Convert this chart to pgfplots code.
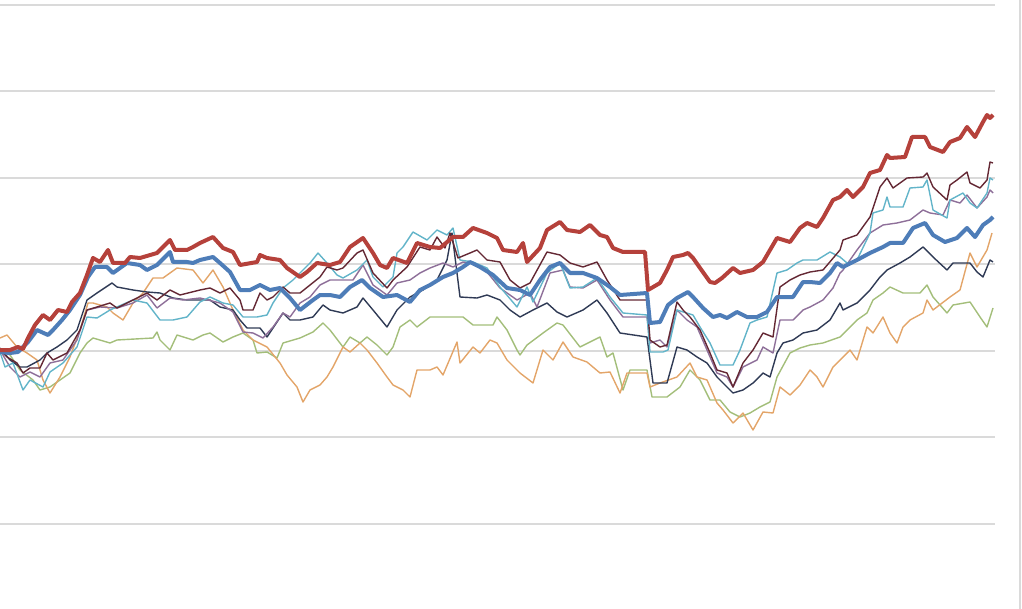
\documentclass[border=0pt]{standalone}
\usepackage{pgfplots}
\pgfplotsset{compat=1.18}

\definecolor{cred}{RGB}{181,65,59}
\definecolor{cblue}{RGB}{78,125,184}
\definecolor{cmaroon}{RGB}{100,40,52}
\definecolor{cteal}{RGB}{98,180,201}
\definecolor{cpurple}{RGB}{142,111,153}
\definecolor{cnavy}{RGB}{47,58,85}
\definecolor{corange}{RGB}{227,165,105}
\definecolor{cgreen}{RGB}{163,190,122}
\definecolor{cgrid}{RGB}{218,218,218}

\begin{document}
\begin{tikzpicture}
  \begin{axis}[
    at={(0,0)}, anchor=south west,
    scale only axis,
    width=497.5pt, height=304.5pt,
    xmin=0, xmax=995,
    ymin=0, ymax=609,
    y dir=reverse,
    axis line style={draw=none},
    tick style={draw=none},
    xtick=\empty,
    ytick={5,91,178,264,351,437,524},
    yticklabels={},
    ymajorgrids=true,
    major grid style={color=cgrid, line width=0.75pt},
    clip=false,
    thin/.style={line width=0.7pt, line join=round},
    thick/.style={line width=2pt, line join=round},
  ]
  % green
  \addplot[thin, cgreen] coordinates {
    (0,350)(10,355)(20,370)(33,380)(40,390)(50,387)(60,380)(70,373)(80,353)(87,343)
    (93,338)(110,343)(117,340)(153,338)(157,332)(160,340)(170,350)(177,335)(193,340)
    (203,335)(210,333)(223,342)(233,337)(243,333)(253,340)(257,353)(267,352)(277,358)
    (283,343)(300,338)(313,332)(323,323)(330,330)(343,347)(350,337)(360,343)(367,337)
    (377,345)(387,355)(393,347)(400,327)(410,320)(417,327)(430,317)(463,317)(473,325)
    (493,325)(497,317)(507,330)(517,350)(520,355)(527,345)(543,333)(557,323)(563,325)
    (580,347)(590,342)(600,337)(607,357)(613,353)(623,390)(630,370)(647,370)(652,397)
    (667,397)(680,387)(690,370)(700,380)(710,400)(720,400)(730,412)(740,417)(750,413)
    (760,407)(770,402)(777,377)(790,353)(800,348)(810,345)(823,343)(840,337)(847,330)
    (857,320)(867,313)(873,300)(883,293)(890,287)(903,293)(920,293)(927,285)(933,297)
    (947,313)(953,305)(970,302)(980,317)(987,327)(993,308)
  };
  % orange
  \addplot[thin, corange] coordinates {
    (0,338)(7,335)(17,347)(27,353)(37,360)(43,380)(50,393)(60,377)(70,357)(80,330)
    (88,303)(93,303)(107,307)(113,313)(123,320)(133,303)(143,293)(153,278)(163,278)
    (177,268)(193,270)(203,283)(213,270)(223,287)(233,310)(243,330)(253,340)(267,347)
    (280,363)(287,375)(297,387)(303,402)(310,390)(320,385)(327,377)(333,367)(343,347)
    (350,352)(360,343)(367,350)(377,363)(387,377)(393,385)(403,390)(410,397)(417,370)
    (430,370)(437,367)(443,375)(457,342)(460,363)(473,347)(480,353)(490,340)(497,343)
    (507,360)(520,373)(533,383)(543,350)(553,360)(563,342)(573,357)(587,362)(600,373)
    (610,372)(620,393)(627,373)(647,373)(650,387)(660,383)(677,377)(690,363)(697,377)
    (707,380)(717,403)(723,410)(733,423)(743,413)(753,430)(763,412)(773,413)(780,387)
    (790,395)(800,385)(810,370)(817,377)(823,387)(833,367)(840,360)(850,350)(857,360)
    (867,327)(873,333)(883,317)(890,333)(897,343)(903,327)(910,320)(923,313)(927,300)
    (933,310)(950,297)(960,290)(970,253)(977,267)(987,250)(992,233)
  };
  % navy
  \addplot[thin, cnavy] coordinates {
    (0,348)(10,360)(20,367)(27,367)(40,360)(47,353)(57,347)(67,340)(77,330)(87,300)
    (97,293)(112,283)(117,287)(133,290)(147,292)(160,293)(173,298)(187,300)(200,300)
    (210,300)(220,307)(233,310)(240,320)(247,328)(260,328)(267,337)(283,313)(290,320)
    (300,320)(313,317)(323,305)(330,310)(343,313)(357,307)(363,298)(373,310)(387,327)
    (397,310)(410,297)(423,290)(437,280)(447,260)(452,233)(460,297)(477,298)(487,295)
    (500,300)(510,310)(520,317)(533,310)(547,303)(557,312)(567,317)(583,310)(597,300)
    (607,313)(620,333)(647,337)(650,360)(653,383)(667,383)(677,347)(687,350)(697,357)
    (707,363)(717,377)(723,383)(733,393)(743,390)(753,383)(763,373)(770,377)(777,353)
    (783,343)(793,340)(803,333)(817,330)(830,320)(840,303)(843,310)(857,303)(863,297)
    (870,290)(880,277)(887,270)(900,263)(910,257)(923,247)(933,257)(947,270)(953,263)
    (970,263)(977,272)(983,277)(990,260)(993,262)
  };
  % purple
  \addplot[thin, cpurple] coordinates {
    (0,350)(10,367)(20,377)(30,372)(40,377)(50,363)(63,360)(77,340)(87,310)(100,307)
    (117,308)(133,303)(147,295)(157,308)(170,298)(183,300)(200,298)(220,303)(233,312)
    (243,332)(253,333)(263,338)(273,327)(283,313)(290,317)(300,303)(310,297)(320,285)
    (330,280)(353,280)(363,265)(373,285)(387,295)(397,283)(410,280)(420,273)(430,268)
    (443,263)(453,267)(463,262)(473,263)(487,272)(500,288)(517,300)(530,293)(537,307)
    (550,273)(563,270)(570,287)(583,288)(597,280)(610,300)(623,317)(647,317)(650,343)
    (660,340)(667,347)(677,310)(687,320)(697,327)(707,350)(717,373)(727,377)(733,387)
    (743,367)(757,360)(763,347)(773,353)(780,320)(793,320)(803,310)(810,307)(823,300)
    (833,288)(840,273)(843,270)(857,250)(870,233)(883,225)(897,223)(910,220)(923,210)
    (930,213)(943,215)(950,200)(960,203)(967,195)(977,208)(987,197)(990,190)(993,193)
  };
  % teal
  \addplot[thin, cteal] coordinates {
    (0,352)(5,367)(13,363)(23,390)(30,380)(43,387)(50,372)(63,363)(77,347)(87,317)
    (97,318)(110,310)(133,300)(147,303)(160,320)(173,320)(187,317)(200,302)(210,297)
    (223,303)(233,305)(243,317)(257,317)(267,315)(273,303)(283,288)(293,280)(300,273)
    (310,263)(318,253)(327,263)(337,275)(343,278)(357,270)(367,260)(373,277)(383,287)
    (393,277)(397,253)(403,247)(413,232)(427,240)(437,230)(447,235)(453,228)(460,260)
    (473,262)(487,268)(500,287)(517,307)(527,287)(533,302)(547,273)(560,263)(570,288)
    (583,287)(597,278)(610,297)(623,313)(647,315)(650,352)(663,352)(668,350)(677,310)
    (693,315)(700,327)(710,343)(720,365)(733,365)(740,350)(750,323)(757,320)(767,317)
    (777,273)(787,270)(797,263)(803,260)(817,260)(830,252)(840,257)(847,263)(857,260)
    (870,233)(873,213)(883,210)(887,197)(890,207)(903,207)(910,188)(923,187)(927,180)
    (933,210)(947,218)(950,200)(963,193)(970,203)(977,208)(987,193)(990,178)(993,180)
  };
  % maroon
  \addplot[thin, cmaroon] coordinates {
    (0,350)(7,357)(17,363)(23,373)(30,368)(40,368)(47,353)(53,360)(67,353)(80,330)
    (87,310)(97,307)(110,303)(117,308)(133,300)(147,293)(157,300)(170,290)(180,295)
    (200,290)(210,288)(220,293)(230,288)(240,300)(243,310)(253,310)(260,293)(267,300)
    (273,297)(283,287)(290,293)(300,293)(310,285)(320,277)(327,267)(337,270)(343,268)
    (357,253)(363,250)(373,273)(387,288)(393,280)(407,267)(420,247)(430,250)(437,237)
    (445,248)(450,233)(458,258)(470,253)(477,250)(487,260)(500,262)(510,280)(520,288)
    (530,283)(547,252)(560,255)(570,263)(583,267)(597,262)(607,280)(620,300)(647,300)
    (650,340)(660,347)(667,345)(677,302)(683,310)(690,317)(700,330)(710,353)(717,370)
    (727,373)(733,387)(743,363)(753,350)(763,333)(773,337)(780,287)(790,280)(800,275)
    (810,272)(823,270)(840,250)(843,240)(857,235)(870,217)(880,187)(887,178)(893,188)
    (907,178)(923,177)(927,173)(933,187)(947,200)(950,185)(957,180)(967,172)(970,183)
    (980,188)(987,180)(990,162)(993,163)
  };
  % blue
  \addplot[thick, cblue] coordinates {
    (0,352)(10,353)(18,352)(28,342)(37,330)(48,335)(53,330)(62,320)(70,310)(80,295)
    (88,277)(95,267)(107,267)(113,273)(127,263)(140,265)(147,270)(157,265)(170,252)
    (173,262)(187,262)(193,263)(200,260)(213,257)(220,263)(230,272)(240,290)(250,290)
    (260,285)(270,290)(280,288)(290,298)(300,310)(313,300)(320,295)(330,295)(340,297)
    (350,287)(362,280)(370,288)(383,297)(397,295)(410,302)(420,290)(430,285)(443,277)
    (453,273)(463,267)(470,262)(480,267)(493,275)(507,288)(520,290)(530,295)(540,280)
    (550,267)(560,263)(570,273)(583,273)(597,278)(610,287)(620,295)(647,293)(650,323)
    (660,322)(668,305)(677,298)(688,292)(693,297)(703,308)(713,317)(720,315)(727,318)
    (737,312)(747,317)(757,317)(767,312)(777,297)(793,297)(803,282)(810,282)(820,283)
    (830,273)(837,263)(843,267)(857,260)(870,253)(883,247)(890,243)(903,243)(913,228)
    (925,223)(933,235)(945,242)(957,238)(967,228)(975,237)(983,225)(990,220)(993,217)
  };
  % red
  \addplot[thick, cred] coordinates {
    (0,350)(10,350)(18,347)(23,349)(28,338)(35,325)(43,315)(50,320)(58,310)(67,312)
    (72,302)(80,293)(87,275)(93,258)(100,262)(108,250)(113,263)(125,263)(130,257)
    (140,258)(157,253)(170,240)(175,250)(187,250)(193,247)(200,243)(213,237)(223,248)
    (233,252)(240,265)(257,262)(260,255)(267,258)(280,260)(287,268)(300,277)(307,272)
    (317,263)(330,265)(340,262)(350,247)(363,238)(373,253)(380,265)(387,268)(393,258)
    (407,263)(417,243)(430,247)(440,248)(453,237)(463,237)(473,228)(487,233)(497,238)
    (503,250)(517,252)(523,243)(527,262)(540,248)(547,230)(560,222)(567,230)(580,232)
    (590,225)(600,235)(607,237)(613,248)(623,252)(645,252)(648,290)(660,283)(667,270)
    (673,257)(683,255)(688,253)(693,258)(700,268)(710,282)(715,283)(722,278)(733,268)
    (740,273)(753,270)(763,262)(777,238)(790,242)(800,228)(807,223)(817,227)(823,218)
    (833,200)(840,197)(847,190)(853,197)(863,187)(870,173)(880,170)(887,155)(890,158)
    (905,157)(912,137)(925,137)(930,147)(943,152)(950,142)(960,138)(967,127)(975,137)
    (983,122)(987,115)(990,118)(993,115)
  };
  \draw[color=cgrid, line width=0.75pt] (axis cs:1020,0) -- (axis cs:1020,609);
  \end{axis}
  \pgfresetboundingbox
  \useasboundingbox (0,0) rectangle (511pt,304.5pt);
\end{tikzpicture}
\end{document}
